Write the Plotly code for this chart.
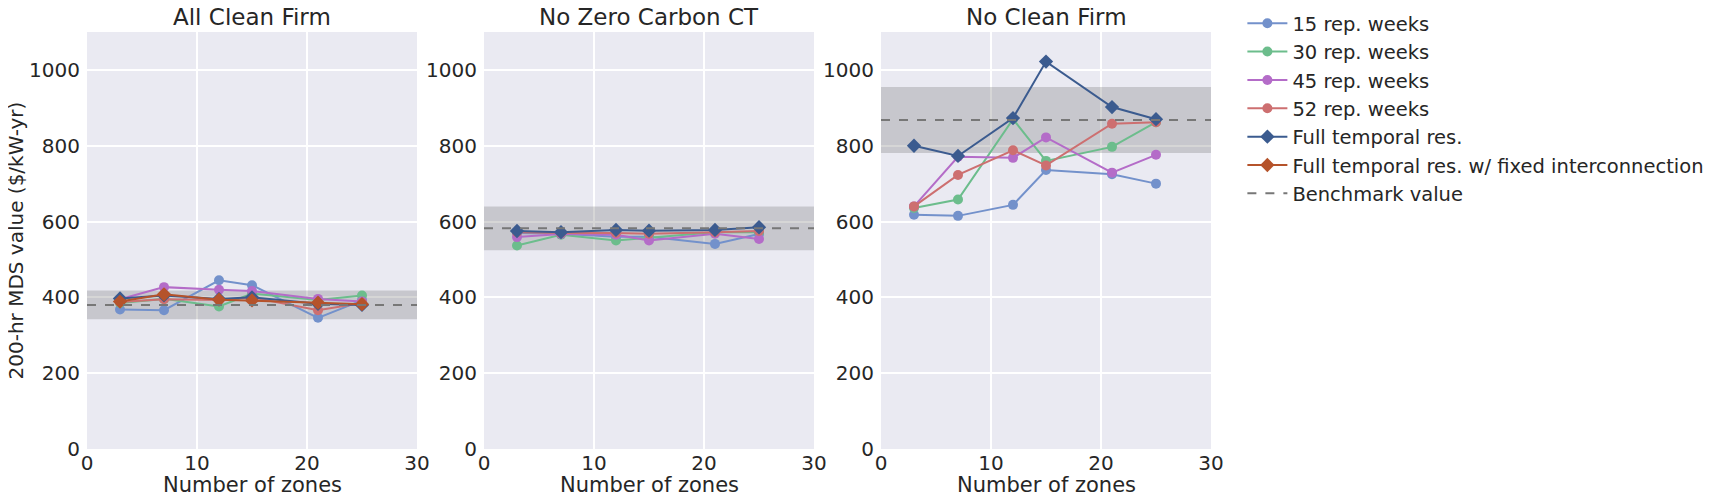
import plotly.graph_objects as go

# --- data ---
zones = [3, 7, 12, 15, 21, 25]
panel_titles = ["All Clean Firm", "No Zero Carbon CT", "No Clean Firm"]

series_names = ["15 rep. weeks", "30 rep. weeks", "45 rep. weeks", "52 rep. weeks",
                "Full temporal res.", "Full temporal res. w/ fixed interconnection"]

# All Clean Firm
acf_15 = [368, 366, 445, 432, 346, 392]
acf_30 = [385, 396, 376, 410, 393, 405]
acf_45 = [395, 427, 420, 417, 396, 389]
acf_52 = [388, 395, 393, 400, 366, 385]
acf_full = [397, 405, 396, 400, 383, 380]
acf_fixed = [389, 408, 394, 392, 386, 382]

# No Zero Carbon CT
nzc_15 = [570, 568, 560, 560, 541, 567]
nzc_30 = [537, 565, 550, 558, 572, 572]
nzc_45 = [559, 567, 565, 550, 568, 554]
nzc_52 = [572, 570, 570, 568, 572, 575]
nzc_full = [575, 572, 578, 576, 578, 585]

# No Clean Firm
ncf_15 = [618, 615, 644, 736, 725, 700]
ncf_30 = [636, 658, 870, 760, 797, 862]
ncf_45 = [640, 771, 768, 822, 729, 776]
ncf_52 = [640, 723, 788, 748, 858, 862]
ncf_full = [800, 773, 873, 1022, 902, 870]

benchmark = [380, 582, 868]
band_low = [342, 524, 781]
band_high = [418, 640, 955]

x_ticks = [0, 10, 20, 30]
y_ticks = [0, 200, 400, 600, 800, 1000]

colors = ["#7391cb", "#6cbd8c", "#b46cc8", "#cd6f70", "#3b5b8f", "#b5532b"]
symbols = ["circle", "circle", "circle", "circle", "diamond", "diamond"]

panels = [
    [acf_15, acf_30, acf_45, acf_52, acf_full, acf_fixed],
    [nzc_15, nzc_30, nzc_45, nzc_52, nzc_full, None],
    [ncf_15, ncf_30, ncf_45, ncf_52, ncf_full, None],
]

FONT = "DejaVu Sans"
TXT = "#262626"

# the page body has an 8px margin, so the figure is shrunk to fit the window
W, H = 1709, 485
left, right = 79, 1204
top, bottom = 24, 44
pw, gap = 330, 67
tot = right - left
plot_h = H - top - bottom
domains = []
for i in range(3):
    a = i * (pw + gap) / tot
    domains.append([a, a + pw / tot])

x_span = [x_ticks[0], x_ticks[-1]]

fig = go.Figure()

for p, series in enumerate(panels):
    xa = "x" if p == 0 else f"x{p + 1}"
    ya = "y" if p == 0 else f"y{p + 1}"
    # +/- band around the benchmark (drawn over the grid, under the lines)
    fig.add_trace(go.Scatter(
        x=x_span, y=[band_low[p]] * 2, xaxis=xa, yaxis=ya, mode="lines",
        line=dict(width=0, color="rgba(0,0,0,0)"), showlegend=False, hoverinfo="skip"))
    fig.add_trace(go.Scatter(
        x=x_span, y=[band_high[p]] * 2, xaxis=xa, yaxis=ya, mode="lines",
        line=dict(width=0, color="rgba(0,0,0,0)"), fill="tonexty",
        fillcolor="rgba(120,120,120,0.3)", showlegend=False, hoverinfo="skip"))
    for k, vals in enumerate(series):
        if vals is None:
            continue
        fig.add_trace(go.Scatter(
            x=zones, y=vals, xaxis=xa, yaxis=ya, mode="lines+markers",
            name=series_names[k], legendgroup=series_names[k], showlegend=(p == 0),
            line=dict(color=colors[k], width=2),
            marker=dict(symbol=symbols[k], size=11 if symbols[k] == "diamond" else 10,
                        color=colors[k]),
        ))
    fig.add_trace(go.Scatter(
        x=x_span, y=[benchmark[p]] * 2, xaxis=xa, yaxis=ya,
        mode="lines", name="Benchmark value", legendgroup="bench", showlegend=(p == 0),
        line=dict(color="#777777", width=2, dash="dash"),
    ))

    axis_common = dict(showgrid=True, gridcolor="white", gridwidth=1.5, zeroline=False,
                       showline=False, ticks="", tickfont=dict(size=20, color=TXT, family=FONT))
    fig.update_layout(**{
        ("xaxis" if p == 0 else f"xaxis{p + 1}"): dict(
            axis_common, domain=domains[p], range=x_span, tickvals=x_ticks, anchor=ya),
        ("yaxis" if p == 0 else f"yaxis{p + 1}"): dict(
            axis_common, domain=[0, 1], range=[0, 1100], tickvals=y_ticks, anchor=xa,
            ticklabelstandoff=6),
    })
    mid = (domains[p][0] + domains[p][1]) / 2
    fig.add_annotation(text=panel_titles[p], xref="paper", yref="paper",
                       x=mid, y=1, yanchor="bottom", xanchor="center", yshift=0,
                       showarrow=False, font=dict(size=23, color=TXT, family=FONT))
    fig.add_annotation(text="Number of zones", xref="paper", yref="paper",
                       x=mid, y=-36 / plot_h, yanchor="middle",
                       xanchor="center", showarrow=False,
                       font=dict(size=21, color=TXT, family=FONT))

fig.add_annotation(text="200-hr MDS value ($/kW-yr)", xref="paper", yref="paper",
                   x=-(left - 7) / tot, y=0.5, xanchor="center", yanchor="middle",
                   textangle=-90, showarrow=False,
                   font=dict(size=20, color=TXT, family=FONT))

fig.update_layout(
    width=W, height=H,
    margin=dict(l=left, r=W - right, t=top, b=bottom, autoexpand=False),
    plot_bgcolor="#eaeaf2", paper_bgcolor="white",
    font=dict(family=FONT, color=TXT),
    legend=dict(x=1.027, y=1.067, xanchor="left", yanchor="top",
                font=dict(size=19.5, color=TXT, family=FONT),
                bgcolor="rgba(0,0,0,0)", tracegroupgap=0, itemwidth=40),
)

fig.write_html("out.html")
